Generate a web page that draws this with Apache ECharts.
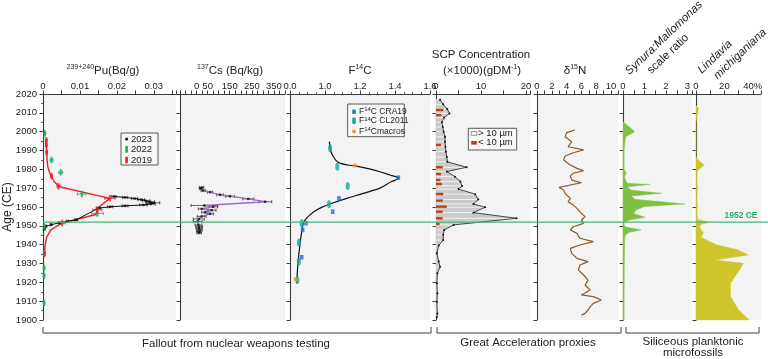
<!DOCTYPE html>
<html>
<head>
<meta charset="utf-8">
<script src="https://cdn.jsdelivr.net/npm/echarts@6.0.0/dist/echarts.min.js"></script>
<style>
html,body{margin:0;padding:0;background:#ffffff;}
#chart{width:768px;height:359px;}
</style>
</head>
<body>
<div id="chart"></div>
<script>
// ================= DATA =================
// Age axis
const ageMin = 1900, ageMax = 2020, ageStep = 10;
const refYear = 1952, refLabel = '1952 CE';

// 239+240Pu (Bq/g)
const pu19LineYear = [1996,1994.7,1990,1985,1981.4,1978,1976.5,1973.5,1971.5,1970.5,1964.6,1959.5,1956,1951.5,1948,1944,1940,1935];
const pu19LineVal  = [0.0008,0.0009,0.0010,0.0011,0.0013,0.0018,0.0023,0.0030,0.0040,0.0050,0.0181,0.0148,0.0143,0.0052,0.0022,0.0010,0.0006,0.0004];
const pu19Year = [1995.5,1993,1989,1976.5,1971,1964.6,1958.5,1951.5,1935];
const pu19Val  = [0.0009,0.0009,0.0010,0.0023,0.0042,0.0181,0.0147,0.0052,0.0004];
const pu19Err  = [0.0002,0.0002,0.0002,0.0003,0.0004,0.0014,0.0012,0.0009,0.0002];
const pu22Year = [1999.1,1985,1978.4,1966.9,1956.6,1949.5,1935.6,1927.6,1923.5,1909];
const pu22Val  = [0.0005,0.0023,0.0048,0.0105,0.0147,0.0004,0.0003,0.0003,0.0003,0.0003];
const pu22Err  = [0.0002,0.0004,0.0005,0.0012,0.0016,0.0002,0.0002,0.0002,0.0002,0.0002];
const pu23Year = [1965.6,1965.1,1964.5,1963.9,1963.3,1962.7,1962.2,1961.6,1961.1,1960.6,1960.1,1959.4,1953.2,1952.4,1951.6,1950.6,1949.8,1949.0,1948.2];
const pu23Val  = [0.0192,0.0222,0.0248,0.0266,0.0279,0.0290,0.0300,0.0292,0.0272,0.0222,0.0182,0.0150,0.0090,0.0066,0.0044,0.0022,0.0008,0.0004,0.0003];
const pu23Err  = [0.0006,0.0007,0.0008,0.0009,0.0010,0.0012,0.0016,0.0012,0.0010,0.0008,0.0007,0.0006,0.0004,0.0003,0.0003,0.0002,0.0002,0.0002,0.0002];
const puTickLabels = [0, 0.01, 0.02, 0.03];

// 137Cs (Bq/kg)
const csYear = [1970.4,1969.8,1968.7,1967.9,1966.5,1965.7,1964.3,1962.8,1960.8,1960.1,1959.0,1958.3,1957.2,1956.4,1955.0,1953.6,1952.3,1950.5,1949.5,1948.7,1947.8,1947.0,1946.2];
const csVal  = [23,20,30,61,106,151,234,310,35,75,23,68,38,61,23,10,5,8,12,10,14,10,12];
const csErr  = [10,8,10,12,15,20,25,30,60,20,15,20,15,15,20,25,20,15,15,12,12,10,10];
const csTickLabels = [0, 50, 150, 250, 350];

// F14C
const fCurveYear = [1994.7,1990,1986.7,1984.5,1983.3,1982.3,1981.8,1980.5,1978.7,1977,1975.6,1975.2,1973.5,1970,1967,1964.6,1962,1960.2,1958,1955.8,1953.5,1951.3,1946.9,1940,1931.8,1919.5];
const fCurveVal  = [1.025,1.032,1.048,1.065,1.085,1.13,1.171,1.24,1.314,1.37,1.419,1.42,1.38,1.314,1.21,1.124,1.04,0.990,0.945,0.914,0.89,0.876,0.867,0.857,0.847,0.838];
const fCl2011Year = [1991.2,1981.4,1971.2,1961.4,1951.4,1941.1,1931,1921.2];
const fCl2011Val  = [1.029,1.07,1.13,1.023,0.867,0.851,0.851,0.842];
const fCra19Year = [1975.6,1964.6,1957.5,1951.4,1947.8,1933.3];
const fCra19Val  = [1.419,1.08,1.044,0.891,0.872,0.867];
const fMacroYear = [1982,1921.6];
const fMacroVal  = [1.171,0.833];
const f14TickValues = [0.8,1.0,1.2,1.4,1.6];
const f14TickText   = ['0.0','1.0','1.2','1.4','1.6'];

// SCP concentration (x1000 gDM-1)
const scpYear = [2017,2014.5,2012,2009.7,2007.5,2005,2002.5,2000,1997.3,1994.7,1992,1989.4,1986.5,1984,1981.1,1978.8,1976.1,1973.5,1971.2,1969.5,1966.8,1964,1961.6,1959.9,1957,1954,1950.5,1947.8,1945.2,1942.5,1939.5,1935.4,1931,1928.3,1924.8,1919.5,1914.2,1909.7,1903.5,1901.5];
const scpVal  = [0.9,1.6,2.5,3.0,1.8,1.3,1.5,1.7,2.0,2.0,2.1,2.2,2.4,2.5,6.8,2.4,4.2,5.4,5.8,5.0,8.7,9.4,8.3,10.9,8.3,17.9,3.9,1.8,1.6,1.6,0.6,0.2,0.6,0.9,0.3,0.2,0.3,0.2,0.3,0.2];
const scpSmallYear = [2011.5,2008.8,1992.9,1981.1,1977.5,1974.3,1972.2,1966.9,1963.4,1960.2,1957.5,1954,1951];
const scpSmallVal  = [1.6,1.2,1.1,1.5,1.1,1.0,1.3,1.6,1.5,2.4,1.5,1.5,0.8];
const scpTickLabels = [0, 10, 20];

// d15N
const d15Year = [2000.9,1999.5,1997.3,1994.7,1992.0,1990.3,1988.8,1987.1,1985.0,1982.3,1980.5,1979.3,1977.9,1976.5,1974.3,1972.9,1971.7,1970.4,1969.0,1967.2,1964.6,1962.8,1961.1,1959.3,1956.6,1954.9,1953.1,1951.3,1949.5,1947.8,1946.0,1943.4,1941.6,1939.8,1938.0,1935.4,1932.7,1931.0,1929.2,1926.5,1923.9,1921.2,1918.6,1915.9,1913.3,1912.4,1910.6,1908.8,1907.1,1905.3,1903.5,1902.6];
const d15Val  = [5.1,4.0,3.8,4.7,4.2,6.3,4.9,3.8,3.6,4.5,5.4,6.3,4.9,4.5,4.7,6.0,4.5,3.0,3.6,3.8,4.5,4.2,4.9,5.4,6.0,6.5,6.0,6.3,4.9,4.5,5.4,5.8,7.6,5.8,4.5,4.7,5.4,6.9,5.8,5.6,6.3,6.9,6.5,7.2,6.0,7.6,8.7,7.6,7.2,6.9,6.5,6.0];
const d15TickLabels = [0,2,4,6,8,10];

// Synura:Mallomonas scale ratio
const synYear = [2005.3,2004.4,2000.0,1997.3,1990,1980,1977.9,1976.1,1974.3,1972.6,1972.0,1970.8,1969.0,1967.3,1965.8,1964.1,1961.6,1960.2,1958.4,1956.6,1954.5,1953.1,1952.2,1951.0,1949.5,1947.8,1946.6,1945.1,1943.9,1930,1915,1900];
const synVal  = [0,0.1,0.55,0.12,0.05,0.05,0.15,0.06,0.12,0.2,1.26,0.22,0.35,1.8,0.4,0.55,2.9,1.0,0.6,0.5,1.03,0.3,0.1,0.02,0.1,0.85,0.3,0.12,0.08,0.06,0.05,0.05];
const synTickLabels = [0,1,2,3];

// Lindavia michiganiana (%)
const linYear = [2014,2012.4,2010,2007,2005,1987,1985.3,1982.3,1979.6,1978,1972,1970.5,1968,1962,1961,1959,1953.5,1951.9,1951,1949.5,1946,1944,1941.6,1939.8,1937.5,1934.5,1931.8,1930.1,1928.3,1919.5,1912.4,1905.3,1900];
const linVal  = [0,1.6,1.2,0.5,0,0,1,5.7,1.5,0.5,0.8,1.2,0.5,0.8,1.2,0.6,1.0,9.5,4,2.5,5.2,3.5,10,14.8,29,37,13.4,33.3,32,24.3,24.3,30.2,37.4];
const linTickValues = [0,20,40];
const linTickText   = ['0','20','40%'];

// ================= CHART =================
const FONT = 'Liberation Sans, Arial, sans-serif';
const AX = '#3c3c3c';
const TOP = 94, HEIGHT = 226;
const panels = [
  {left:43,  width:133,  min:0,    max:0.036, step:0.005, minor:0},
  {left:180, width:105,  min:-75,  max:400,   step:25,    minor:0},
  {left:290, width:140,  min:0.8,  max:1.6,   step:0.2,   minor:4},
  {left:436, width:94.5, min:0,    max:21,    step:5,     minor:0},
  {left:537, width:81.4, min:0,    max:11,    step:1,     minor:0},
  {left:623, width:68.8, min:0,    max:3.2,   step:0.5,   minor:0},
  {left:696, width:65.3, min:0,    max:46,    step:10,    minor:0}
];
const labelSets = [
  puTickLabels.map(t => [t, String(t)]),
  csTickLabels.map(t => [t, String(t)]),
  f14TickValues.map((t,i) => [t, f14TickText[i]]),
  scpTickLabels.map(t => [t, String(t)]),
  d15TickLabels.map(t => [t, String(t)]),
  synTickLabels.map(t => [t, String(t)]),
  linTickValues.map((t,i) => [t, linTickText[i]])
];
const pick = pairs => v => {
  for (const [t, l] of pairs) if (Math.abs(t - v) < 1e-6) return l;
  return '';
};
const zip = (xs, ys) => xs.map((x, i) => [x, ys[i]]);
const zip3 = (xs, ys, es) => xs.map((x, i) => [x, ys[i], es[i]]);

const errBar = (color, w) => (params, api) => {
  const v = api.value(0), y = api.value(1), e = api.value(2);
  const a = api.coord([v - e, y]), b = api.coord([v + e, y]);
  const c = 1.6;
  return {type:'group', children:[
    {type:'line', shape:{x1:a[0], y1:a[1], x2:b[0], y2:b[1]}, style:{stroke:color, lineWidth:w}},
    {type:'line', shape:{x1:a[0], y1:a[1]-c, x2:a[0], y2:a[1]+c}, style:{stroke:color, lineWidth:w}},
    {type:'line', shape:{x1:b[0], y1:b[1]-c, x2:b[0], y2:b[1]+c}, style:{stroke:color, lineWidth:w}}
  ]};
};
const profileArea = (xs, ys, color) => (params, api) => {
  if (params.dataIndex !== 0) return null;
  const pts = [api.coord([0, ys[0]])];
  xs.forEach((x, i) => pts.push(api.coord([x, ys[i]])));
  pts.push(api.coord([0, ys[ys.length - 1]]));
  return {type:'polygon', shape:{points:pts}, style:{fill:color, stroke:color, lineWidth:0.4}};
};
const hSep = (color) => (params, api) => {
  const v = api.value(0), y = api.value(1);
  const a = api.coord([0, y]), b = api.coord([v, y]);
  return {type:'line', shape:{x1:a[0]+0.6, y1:a[1], x2:b[0]-0.6, y2:b[1]}, style:{stroke:color, lineWidth:0.9}};
};
const hBar = (color, half) => (params, api) => {
  const v = api.value(0), y = api.value(1);
  const a = api.coord([0, y + half]), b = api.coord([v, y - half]);
  return {type:'rect', shape:{x:a[0], y:a[1], width:b[0]-a[0], height:b[1]-a[1]}, style:{fill:color}};
};

const grids = panels.map(p => ({left:p.left, width:p.width, top:TOP, height:HEIGHT, show:true,
  backgroundColor:'#f3f3f3', borderWidth:0, containLabel:false, outerBoundsMode:'none'}));

const xAxes = panels.map((p, i) => ({
  type:'value', gridIndex:i, position:'top', min:p.min, max:p.max, interval:p.step,
  axisLine:{show:true, onZero:false, lineStyle:{color:AX, width:1.1}},
  axisTick:{show:true, inside:false, length:3.5, lineStyle:{color:AX, width:1}},
  minorTick: p.minor ? {show:true, splitNumber:p.minor, length:2, lineStyle:{color:AX, width:0.8}} : {show:false},
  axisLabel:{show:true, margin:3, fontSize:9.5, color:'#222', fontFamily:FONT, formatter:pick(labelSets[i])},
  splitLine:{show:false}, minorSplitLine:{show:false}
}));
const yAxes = panels.map((p, i) => ({
  type:'value', gridIndex:i, min:ageMin, max:ageMax, interval:ageStep,
  axisLine:{show:true, onZero:false, lineStyle:{color:AX, width:1.1}},
  axisTick:{show:true, inside:false, length:3.5, lineStyle:{color:AX, width:1}},
  minorTick: i === 0 ? {show:true, splitNumber:2, length:2, lineStyle:{color:AX, width:0.8}} : {show:false},
  axisLabel:{show:i === 0, margin:6, fontSize:9.5, color:'#222', fontFamily:FONT, formatter:v => String(Math.round(v))},
  splitLine:{show:false}, minorSplitLine:{show:false}
}));

const RED = '#e8232a', GREEN22 = '#1fa85a', PURPLE = '#9d6cc9';
const ax = i => ({xAxisIndex:i, yAxisIndex:i});
const series = [
  // ---- Pu
  Object.assign({type:'line', data:zip(pu19LineVal, pu19LineYear), showSymbol:false, lineStyle:{color:RED, width:1.4}, z:3}, ax(0)),
  Object.assign({type:'line', data:zip(pu23Val, pu23Year), showSymbol:false, lineStyle:{color:'#111', width:1}, z:4}, ax(0)),
  Object.assign({type:'custom', renderItem:errBar('#111', 0.7), data:zip3(pu23Val, pu23Year, pu23Err), encode:{x:0, y:1}, z:4}, ax(0)),
  Object.assign({type:'custom', renderItem:errBar(GREEN22, 0.8), data:zip3(pu22Val, pu22Year, pu22Err), encode:{x:0, y:1}, z:4}, ax(0)),
  Object.assign({type:'custom', renderItem:errBar(RED, 0.8), data:zip3(pu19Val, pu19Year, pu19Err), encode:{x:0, y:1}, z:4}, ax(0)),
  Object.assign({type:'scatter', data:zip(pu23Val, pu23Year), symbol:'rect', symbolSize:2.5, itemStyle:{color:'#111'}, z:5}, ax(0)),
  Object.assign({type:'scatter', data:zip(pu22Val, pu22Year), symbol:'circle', symbolSize:[2.6,7], itemStyle:{color:GREEN22}, z:5}, ax(0)),
  Object.assign({type:'scatter', data:zip(pu19Val, pu19Year), symbol:'circle', symbolSize:[2.6,7], itemStyle:{color:RED}, z:5}, ax(0)),
  // ---- Cs
  Object.assign({type:'custom', renderItem:errBar('#222', 0.7), data:zip3(csVal, csYear, csErr), encode:{x:0, y:1}, z:3}, ax(1)),
  Object.assign({type:'line', data:zip(csVal, csYear), showSymbol:false, lineStyle:{color:PURPLE, width:1.3}, z:4}, ax(1)),
  Object.assign({type:'scatter', data:zip(csVal, csYear), symbol:'rect', symbolSize:2.4, itemStyle:{color:'#111'}, z:5}, ax(1)),
  // ---- F14C
  Object.assign({type:'line', data:zip(fCurveVal, fCurveYear), showSymbol:false, smooth:0.35, lineStyle:{color:'#111', width:1.2}, z:3}, ax(2)),
  Object.assign({type:'scatter', data:zip(fCl2011Val, fCl2011Year), symbol:'circle', symbolSize:[4,8], itemStyle:{color:'#17a89c'}, z:4}, ax(2)),
  Object.assign({type:'scatter', data:zip(fCra19Val, fCra19Year), symbol:'rect', symbolSize:[3.6,4.6], itemStyle:{color:'#1f6fd1'}, z:5}, ax(2)),
  Object.assign({type:'scatter', data:zip(fMacroVal, fMacroYear), symbol:'rect', symbolSize:[4,3.6], itemStyle:{color:'#f28a2e'}, z:5}, ax(2)),
  // ---- SCP
  Object.assign({type:'custom', renderItem:profileArea(scpVal, scpYear, '#cbcbcb'), data:zip(scpVal, scpYear), encode:{x:0, y:1}, z:2}, ax(3)),
  Object.assign({type:'custom', renderItem:hSep('#f7f7f7'), data:zip(scpVal, scpYear), encode:{x:0, y:1}, z:3}, ax(3)),
  Object.assign({type:'line', data:zip(scpVal, scpYear), symbol:'circle', symbolSize:2, showSymbol:true, itemStyle:{color:'#111'}, lineStyle:{color:'#222', width:0.8}, z:4}, ax(3)),
  Object.assign({type:'custom', renderItem:hBar('#b5441c', 0.65), data:zip(scpSmallVal, scpSmallYear), encode:{x:0, y:1}, z:5}, ax(3)),
  // ---- d15N
  Object.assign({type:'line', data:zip(d15Val, d15Year), showSymbol:false, lineStyle:{color:'#8c5a2b', width:1.2}, z:3}, ax(4)),
  // ---- Synura
  Object.assign({type:'custom', renderItem:profileArea(synVal, synYear, '#7dc143'), data:zip(synVal, synYear), encode:{x:0, y:1}, z:2}, ax(5)),
  // ---- Lindavia
  Object.assign({type:'custom', renderItem:profileArea(linVal, linYear, '#cec52b'), data:zip(linVal, linYear), encode:{x:0, y:1}, z:2}, ax(6))
];

const chart = echarts.init(document.getElementById('chart'), null, {renderer:'canvas'});
chart.setOption({
  animation:false,
  backgroundColor:'#ffffff',
  textStyle:{fontFamily:FONT},
  grid:grids, xAxis:xAxes, yAxis:yAxes, series:series
});

// ---------- annotations ----------
const refPx = chart.convertToPixel({gridIndex:0}, [0, refYear]);
const TXT = '#222';
const rt = (text, x, y, size, extra) => Object.assign({type:'text', x:x, y:y, z:20, silent:true,
  style:Object.assign({text:text, fontFamily:FONT, fontSize:size, fill:TXT, align:'center', verticalAlign:'middle'}, extra || {})});
const supRich = (main, sup) => ({
  n:{fontSize:main, lineHeight:14, fontFamily:FONT, fill:TXT},
  s:{fontSize:sup, lineHeight:8, verticalAlign:'top', fontFamily:FONT, fill:TXT}
});
const legRich = supRich(8.5, 6);
legRich.n.lineHeight = 10; legRich.s.lineHeight = 6;

const graphics = [
  // reference line
  {type:'line', z:15, silent:true, shape:{x1:refPx[0], y1:refPx[1], x2:768, y2:refPx[1]}, style:{stroke:'#3cb878', lineWidth:1.2}},
  rt(refLabel, 741, refPx[1] - 6, 8.5, {fill:'#2eaa66', fontWeight:'bold'}),
  // titles
  rt('{s|239+240}{n|Pu(Bq/g)}', 103, 71, 12, {rich:supRich(11.5, 7)}),
  rt('{s|137}{n|Cs (Bq/kg)}', 230, 71, 12, {rich:supRich(11.5, 7)}),
  rt('{n|F}{s|14}{n|C}', 360, 71, 12, {rich:supRich(11.5, 7)}),
  rt('SCP Concentration', 481, 55, 11.5),
  rt('{n|(×1000)(gDM}{s|-1}{n|)}', 482, 71, 12, {rich:supRich(11.5, 7)}),
  rt('{n|δ}{s|15}{n|N}', 575, 71, 12, {rich:supRich(11.5, 7)}),
  Object.assign(rt('Synura:Mallomonas', 664, 38, 11.5, {fontStyle:'italic'}), {rotation:0.76}),
  Object.assign(rt('scale ratio', 668, 54, 11.5), {rotation:0.76}),
  Object.assign(rt('Lindavia', 715, 57, 11.5, {fontStyle:'italic'}), {rotation:0.76}),
  Object.assign(rt('michiganiana', 740, 54, 11.5, {fontStyle:'italic'}), {rotation:0.76}),
  // y name
  Object.assign(rt('Age (CE)', 8, 207, 12), {rotation:Math.PI/2}),
  // bottom groups
  {type:'polyline', z:10, silent:true, shape:{points:[[43,327],[43,333],[431,333],[431,327]]}, style:{stroke:AX, lineWidth:1, fill:null}},
  {type:'polyline', z:10, silent:true, shape:{points:[[437,327],[437,333],[621,333],[621,327]]}, style:{stroke:AX, lineWidth:1, fill:null}},
  {type:'polyline', z:10, silent:true, shape:{points:[[626,327],[626,333],[759,333],[759,327]]}, style:{stroke:AX, lineWidth:1, fill:null}},
  rt('Fallout from nuclear weapons testing', 236, 344, 11.5),
  rt('Great Acceleration proxies', 528, 343, 11.5),
  rt('Siliceous planktonic', 693, 342, 11.5),
  rt('microfossils', 693, 353, 11.5),
  // Pu legend
  {type:'rect', z:12, silent:true, shape:{x:121, y:133, width:37, height:32}, style:{fill:'rgba(250,250,250,0.6)', stroke:'#333', lineWidth:0.8}},
  {type:'rect', z:13, silent:true, shape:{x:125.3, y:137.8, width:2.6, height:2.6}, style:{fill:'#111'}},
  {type:'rect', z:13, silent:true, shape:{x:125.3, y:145.7, width:2.6, height:7.2, r:1.3}, style:{fill:GREEN22}},
  {type:'rect', z:13, silent:true, shape:{x:125.3, y:156.4, width:2.6, height:7.2, r:1.3}, style:{fill:RED}},
  rt('2023', 131, 139, 9.5, {align:'left'}),
  rt('2022', 131, 149.6, 9.5, {align:'left'}),
  rt('2019', 131, 160, 9.5, {align:'left'}),
  // F14C legend
  {type:'rect', z:12, silent:true, shape:{x:347.7, y:104, width:56.6, height:32.7}, style:{fill:'rgba(250,250,250,0.6)', stroke:'#333', lineWidth:0.8}},
  {type:'rect', z:13, silent:true, shape:{x:352.3, y:109.5, width:3.4, height:4.4}, style:{fill:'#1f6fd1'}},
  {type:'rect', z:13, silent:true, shape:{x:352.2, y:117.2, width:3.6, height:7, r:1.8}, style:{fill:'#17a89c'}},
  {type:'rect', z:13, silent:true, shape:{x:352.3, y:129.8, width:3.4, height:3.2}, style:{fill:'#f28a2e'}},
  rt('{n|F}{s|14}{n|C CRA19}', 359, 111.7, 8.5, {align:'left', rich:legRich}),
  rt('{n|F}{s|14}{n|C CL2011}', 359, 121, 8.5, {align:'left', rich:legRich}),
  rt('{n|F}{s|14}{n|Cmacros}', 359, 131.3, 8.5, {align:'left', rich:legRich}),
  // SCP legend
  {type:'rect', z:12, silent:true, shape:{x:468.3, y:128.3, width:48.4, height:21.7}, style:{fill:'rgba(250,250,250,0.6)', stroke:'#333', lineWidth:0.8}},
  {type:'rect', z:13, silent:true, shape:{x:471.2, y:131.6, width:5.6, height:3.6}, style:{fill:'#ffffff', stroke:'#666', lineWidth:0.7}},
  {type:'rect', z:13, silent:true, shape:{x:471.2, y:141, width:5.6, height:3.6}, style:{fill:'#b5441c'}},
  rt('> 10 µm', 478, 133.4, 9.5, {align:'left'}),
  rt('< 10 µm', 478, 142.8, 9.5, {align:'left'})
];
chart.setOption({graphic:graphics});
</script>
</body>
</html>
